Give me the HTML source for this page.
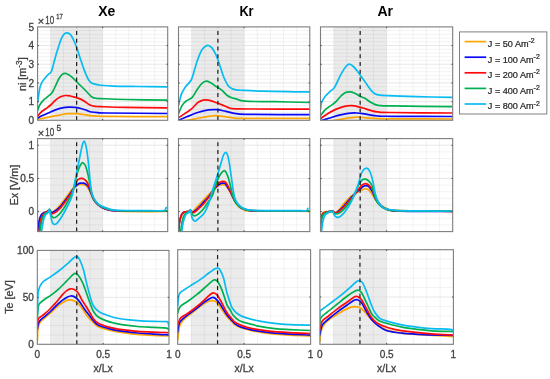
<!DOCTYPE html><html><head><meta charset="utf-8"><style>html,body{margin:0;padding:0;background:#fff;}svg{display:block;}</style></head><body><svg width="550" height="379" viewBox="0 0 550 379" font-family="Liberation Sans, Arial, sans-serif">
<rect width="550" height="379" fill="#fff"/>
<defs>
<clipPath id="cp00"><rect x="37.60" y="26.90" width="130.10" height="93.40"/></clipPath>
<clipPath id="cp01"><rect x="178.50" y="26.90" width="131.30" height="93.40"/></clipPath>
<clipPath id="cp02"><rect x="320.50" y="26.90" width="132.20" height="93.40"/></clipPath>
<clipPath id="cp10"><rect x="37.60" y="138.60" width="130.10" height="93.00"/></clipPath>
<clipPath id="cp11"><rect x="178.50" y="138.60" width="131.30" height="93.00"/></clipPath>
<clipPath id="cp12"><rect x="320.50" y="138.60" width="132.20" height="93.00"/></clipPath>
<clipPath id="cp20"><rect x="37.30" y="250.40" width="131.70" height="93.90"/></clipPath>
<clipPath id="cp21"><rect x="177.70" y="249.70" width="132.90" height="94.60"/></clipPath>
<clipPath id="cp22"><rect x="319.90" y="249.70" width="133.50" height="94.60"/></clipPath>
</defs>
<g><rect x="50.61" y="26.90" width="52.04" height="93.40" fill="#ebebeb"/><path d="M50.61,26.90V120.30 M63.62,26.90V120.30 M76.63,26.90V120.30 M89.64,26.90V120.30 M115.66,26.90V120.30 M128.67,26.90V120.30 M141.68,26.90V120.30 M154.69,26.90V120.30 M37.60,116.56H167.70 M37.60,112.83H167.70 M37.60,109.09H167.70 M37.60,105.36H167.70 M37.60,97.88H167.70 M37.60,94.15H167.70 M37.60,90.41H167.70 M37.60,86.68H167.70 M37.60,79.20H167.70 M37.60,75.47H167.70 M37.60,71.73H167.70 M37.60,68.00H167.70 M37.60,60.52H167.70 M37.60,56.79H167.70 M37.60,53.05H167.70 M37.60,49.32H167.70 M37.60,41.84H167.70 M37.60,38.11H167.70 M37.60,34.37H167.70 M37.60,30.64H167.70" stroke="#000" stroke-opacity="0.06" stroke-width="0.9" fill="none"/><path d="M102.65,26.90V120.30 M37.60,101.62H167.70 M37.60,82.94H167.70 M37.60,64.26H167.70 M37.60,45.58H167.70" stroke="#dcdcdc" stroke-width="0.7" fill="none"/><g clip-path="url(#cp00)"><path d="M37.60,119.20 C38.70,119.02 41.73,118.57 44.20,118.10 C46.67,117.63 49.68,116.95 52.40,116.40 C55.12,115.85 57.78,115.25 60.50,114.80 C63.22,114.35 65.97,113.88 68.70,113.70 C71.43,113.52 74.45,113.57 76.90,113.70 C79.35,113.83 81.22,114.18 83.40,114.50 C85.58,114.82 87.53,115.33 90.00,115.60 C92.47,115.87 95.53,115.97 98.20,116.10 C100.87,116.23 94.42,116.30 106.00,116.40 C117.58,116.50 157.42,116.65 167.70,116.70" stroke="#FFA500" stroke-width="1.7" fill="none" stroke-linejoin="round" stroke-linecap="round"/><path d="M37.60,118.10 C38.42,117.68 40.58,116.50 42.50,115.60 C44.42,114.70 46.92,113.65 49.10,112.70 C51.28,111.75 53.42,110.70 55.60,109.90 C57.78,109.10 60.02,108.37 62.20,107.90 C64.38,107.43 66.52,107.18 68.70,107.10 C70.88,107.02 73.12,107.13 75.30,107.40 C77.48,107.67 79.90,108.20 81.80,108.70 C83.70,109.20 85.07,109.85 86.70,110.40 C88.33,110.95 89.68,111.62 91.60,112.00 C93.52,112.38 95.80,112.53 98.20,112.70 C100.60,112.87 94.42,112.87 106.00,113.00 C117.58,113.13 157.42,113.42 167.70,113.50" stroke="#0A0AF8" stroke-width="1.7" fill="none" stroke-linejoin="round" stroke-linecap="round"/><path d="M37.60,116.20 C38.15,115.55 39.53,113.55 40.90,112.30 C42.27,111.05 44.17,109.92 45.80,108.70 C47.43,107.48 49.07,106.43 50.70,105.00 C52.33,103.57 53.97,101.47 55.60,100.10 C57.23,98.73 58.87,97.57 60.50,96.80 C62.13,96.03 63.77,95.63 65.40,95.50 C67.03,95.37 68.65,95.70 70.30,96.00 C71.95,96.30 73.65,96.82 75.30,97.30 C76.95,97.78 78.57,98.17 80.20,98.90 C81.83,99.63 83.47,100.68 85.10,101.70 C86.73,102.72 88.37,104.23 90.00,105.00 C91.63,105.77 93.23,106.03 94.90,106.30 C96.57,106.57 94.90,106.42 100.00,106.60 C105.10,106.78 114.22,107.20 125.50,107.40 C136.78,107.60 160.67,107.73 167.70,107.80" stroke="#FF0A0A" stroke-width="1.7" fill="none" stroke-linejoin="round" stroke-linecap="round"/><path d="M37.60,110.50 C37.95,109.58 38.75,106.68 39.70,105.00 C40.65,103.32 42.12,101.67 43.30,100.40 C44.48,99.13 45.52,98.50 46.80,97.40 C48.08,96.30 50.00,94.78 51.00,93.80 C52.00,92.82 52.02,92.88 52.80,91.50 C53.58,90.12 54.72,87.58 55.70,85.50 C56.68,83.42 57.62,80.85 58.70,79.00 C59.78,77.15 61.08,75.33 62.20,74.40 C63.32,73.47 64.32,73.35 65.40,73.40 C66.48,73.45 67.60,74.08 68.70,74.70 C69.80,75.32 70.48,75.73 72.00,77.10 C73.52,78.47 75.63,80.75 77.80,82.90 C79.97,85.05 83.25,88.23 85.00,90.00 C86.75,91.77 87.07,92.28 88.30,93.50 C89.53,94.72 91.03,96.48 92.40,97.30 C93.77,98.12 95.23,98.18 96.50,98.40 C97.77,98.62 95.17,98.42 100.00,98.60 C104.83,98.78 114.22,99.23 125.50,99.50 C136.78,99.77 160.67,100.08 167.70,100.20" stroke="#00B050" stroke-width="1.7" fill="none" stroke-linejoin="round" stroke-linecap="round"/><path d="M37.60,102.50 C37.77,101.35 38.25,97.93 38.60,95.60 C38.95,93.27 39.22,90.57 39.70,88.50 C40.18,86.43 40.80,84.68 41.50,83.20 C42.20,81.72 43.02,80.80 43.90,79.60 C44.78,78.40 45.92,76.98 46.80,76.00 C47.68,75.02 48.58,74.23 49.20,73.70 C49.82,73.17 50.07,73.33 50.50,72.80 C50.93,72.27 51.33,71.83 51.80,70.50 C52.27,69.17 52.75,66.83 53.30,64.80 C53.85,62.77 54.50,60.47 55.10,58.30 C55.70,56.13 56.30,53.78 56.90,51.80 C57.50,49.82 58.12,48.18 58.70,46.40 C59.28,44.62 59.82,42.68 60.40,41.10 C60.98,39.52 61.50,38.13 62.20,36.90 C62.90,35.67 63.80,34.38 64.60,33.70 C65.40,33.02 66.22,32.80 67.00,32.80 C67.78,32.80 68.52,33.12 69.30,33.70 C70.08,34.28 70.77,34.75 71.70,36.30 C72.63,37.85 74.00,40.92 74.90,43.00 C75.80,45.08 76.38,46.75 77.10,48.80 C77.82,50.85 78.48,53.12 79.20,55.30 C79.92,57.48 80.67,59.72 81.40,61.90 C82.13,64.08 82.75,66.12 83.60,68.40 C84.45,70.68 85.65,73.67 86.50,75.60 C87.35,77.53 87.98,78.85 88.70,80.00 C89.42,81.15 89.97,81.85 90.80,82.50 C91.63,83.15 92.48,83.52 93.70,83.90 C94.92,84.28 96.72,84.55 98.10,84.80 C99.48,85.05 99.57,85.18 102.00,85.40 C104.43,85.62 106.67,85.92 112.70,86.10 C118.73,86.28 129.03,86.38 138.20,86.50 C147.37,86.62 162.78,86.75 167.70,86.80" stroke="#08BCF2" stroke-width="1.7" fill="none" stroke-linejoin="round" stroke-linecap="round"/></g><path d="M76.63,120.30V26.90" stroke="#1a1a1a" stroke-width="1.2" stroke-dasharray="4 3.76" fill="none"/><rect x="37.60" y="26.90" width="130.10" height="93.40" fill="none" stroke="#7d7d7d" stroke-width="1.1"/><path d="M37.60,101.62h1.3M167.70,101.62h-1.3M37.60,82.94h1.3M167.70,82.94h-1.3M37.60,64.26h1.3M167.70,64.26h-1.3M37.60,45.58h1.3M167.70,45.58h-1.3M102.65,120.30v-1.3M102.65,26.90v1.3" stroke="#404040" stroke-width="0.9" fill="none"/></g>
<g><rect x="191.63" y="26.90" width="52.52" height="93.40" fill="#ebebeb"/><path d="M191.63,26.90V120.30 M204.76,26.90V120.30 M217.89,26.90V120.30 M231.02,26.90V120.30 M257.28,26.90V120.30 M270.41,26.90V120.30 M283.54,26.90V120.30 M296.67,26.90V120.30 M178.50,116.56H309.80 M178.50,112.83H309.80 M178.50,109.09H309.80 M178.50,105.36H309.80 M178.50,97.88H309.80 M178.50,94.15H309.80 M178.50,90.41H309.80 M178.50,86.68H309.80 M178.50,79.20H309.80 M178.50,75.47H309.80 M178.50,71.73H309.80 M178.50,68.00H309.80 M178.50,60.52H309.80 M178.50,56.79H309.80 M178.50,53.05H309.80 M178.50,49.32H309.80 M178.50,41.84H309.80 M178.50,38.11H309.80 M178.50,34.37H309.80 M178.50,30.64H309.80" stroke="#000" stroke-opacity="0.06" stroke-width="0.9" fill="none"/><path d="M244.15,26.90V120.30 M178.50,101.62H309.80 M178.50,82.94H309.80 M178.50,64.26H309.80 M178.50,45.58H309.80" stroke="#dcdcdc" stroke-width="0.7" fill="none"/><g clip-path="url(#cp01)"><path d="M178.50,121.60 C180.25,121.33 185.08,120.68 189.00,120.00 C192.92,119.32 197.67,118.22 202.00,117.50 C206.33,116.78 211.03,115.82 215.00,115.70 C218.97,115.58 222.30,116.37 225.80,116.80 C229.30,117.23 231.92,118.05 236.00,118.30 C240.08,118.55 238.00,118.28 250.30,118.30 C262.60,118.32 299.88,118.38 309.80,118.40" stroke="#FFA500" stroke-width="1.7" fill="none" stroke-linejoin="round" stroke-linecap="round"/><path d="M178.50,120.40 C179.88,119.80 183.60,118.12 186.80,116.80 C190.00,115.48 194.08,113.65 197.70,112.50 C201.32,111.35 205.25,110.37 208.50,109.90 C211.75,109.43 214.32,109.45 217.20,109.70 C220.08,109.95 222.67,110.75 225.80,111.40 C228.93,112.05 231.92,113.10 236.00,113.60 C240.08,114.10 238.00,114.22 250.30,114.40 C262.60,114.58 299.88,114.65 309.80,114.70" stroke="#0A0AF8" stroke-width="1.7" fill="none" stroke-linejoin="round" stroke-linecap="round"/><path d="M178.50,117.90 C179.53,117.18 182.58,115.05 184.70,113.60 C186.82,112.15 189.03,111.02 191.20,109.20 C193.37,107.38 195.72,104.22 197.70,102.70 C199.68,101.18 201.30,100.53 203.10,100.10 C204.90,99.67 206.70,99.83 208.50,100.10 C210.30,100.37 212.10,101.08 213.90,101.70 C215.70,102.32 217.50,103.08 219.30,103.80 C221.10,104.52 222.90,105.27 224.70,106.00 C226.50,106.73 228.22,107.73 230.10,108.20 C231.98,108.67 232.68,108.67 236.00,108.80 C239.32,108.93 237.70,108.93 250.00,109.00 C262.30,109.07 299.83,109.17 309.80,109.20" stroke="#FF0A0A" stroke-width="1.7" fill="none" stroke-linejoin="round" stroke-linecap="round"/><path d="M178.50,113.60 C179.17,112.15 181.12,107.07 182.50,104.90 C183.88,102.73 185.18,101.87 186.80,100.60 C188.42,99.33 190.38,99.28 192.20,97.30 C194.02,95.32 196.07,91.03 197.70,88.70 C199.33,86.37 200.57,84.57 202.00,83.30 C203.43,82.03 204.85,81.18 206.30,81.10 C207.75,81.02 209.07,81.90 210.70,82.80 C212.33,83.70 214.30,85.33 216.10,86.50 C217.90,87.67 219.70,88.35 221.50,89.80 C223.30,91.25 225.10,93.83 226.90,95.20 C228.70,96.57 230.78,97.40 232.30,98.00 C233.82,98.60 233.85,98.27 236.00,98.80 C238.15,99.33 238.63,100.72 245.20,101.20 C251.77,101.68 264.63,101.48 275.40,101.70 C286.17,101.92 304.07,102.37 309.80,102.50" stroke="#00B050" stroke-width="1.7" fill="none" stroke-linejoin="round" stroke-linecap="round"/><path d="M178.50,105.50 C178.98,103.60 180.20,97.27 181.40,94.10 C182.60,90.93 184.07,88.85 185.70,86.50 C187.33,84.15 189.75,82.70 191.20,80.00 C192.65,77.30 193.32,73.72 194.40,70.30 C195.48,66.88 196.43,62.93 197.70,59.50 C198.97,56.07 200.38,52.05 202.00,49.70 C203.62,47.35 205.78,45.75 207.40,45.40 C209.02,45.05 210.25,45.98 211.70,47.60 C213.15,49.22 214.83,52.40 216.10,55.10 C217.37,57.80 218.05,60.18 219.30,63.80 C220.55,67.42 222.15,73.20 223.60,76.80 C225.05,80.40 226.55,83.42 228.00,85.40 C229.45,87.38 230.97,87.97 232.30,88.70 C233.63,89.43 234.27,89.53 236.00,89.80 C237.73,90.07 238.23,90.07 242.70,90.30 C247.17,90.53 255.27,90.97 262.80,91.20 C270.33,91.43 280.07,91.58 287.90,91.70 C295.73,91.82 306.15,91.87 309.80,91.90" stroke="#08BCF2" stroke-width="1.7" fill="none" stroke-linejoin="round" stroke-linecap="round"/></g><path d="M217.89,120.30V26.90" stroke="#1a1a1a" stroke-width="1.2" stroke-dasharray="4 3.76" fill="none"/><rect x="178.50" y="26.90" width="131.30" height="93.40" fill="none" stroke="#7d7d7d" stroke-width="1.1"/><path d="M178.50,101.62h1.3M309.80,101.62h-1.3M178.50,82.94h1.3M309.80,82.94h-1.3M178.50,64.26h1.3M309.80,64.26h-1.3M178.50,45.58h1.3M309.80,45.58h-1.3M244.15,120.30v-1.3M244.15,26.90v1.3" stroke="#404040" stroke-width="0.9" fill="none"/></g>
<g><rect x="333.72" y="26.90" width="52.88" height="93.40" fill="#ebebeb"/><path d="M333.72,26.90V120.30 M346.94,26.90V120.30 M360.16,26.90V120.30 M373.38,26.90V120.30 M399.82,26.90V120.30 M413.04,26.90V120.30 M426.26,26.90V120.30 M439.48,26.90V120.30 M320.50,116.56H452.70 M320.50,112.83H452.70 M320.50,109.09H452.70 M320.50,105.36H452.70 M320.50,97.88H452.70 M320.50,94.15H452.70 M320.50,90.41H452.70 M320.50,86.68H452.70 M320.50,79.20H452.70 M320.50,75.47H452.70 M320.50,71.73H452.70 M320.50,68.00H452.70 M320.50,60.52H452.70 M320.50,56.79H452.70 M320.50,53.05H452.70 M320.50,49.32H452.70 M320.50,41.84H452.70 M320.50,38.11H452.70 M320.50,34.37H452.70 M320.50,30.64H452.70" stroke="#000" stroke-opacity="0.06" stroke-width="0.9" fill="none"/><path d="M386.60,26.90V120.30 M320.50,101.62H452.70 M320.50,82.94H452.70 M320.50,64.26H452.70 M320.50,45.58H452.70" stroke="#dcdcdc" stroke-width="0.7" fill="none"/><g clip-path="url(#cp02)"><path d="M320.50,121.70 C322.45,121.55 328.20,121.32 332.20,120.80 C336.20,120.28 340.37,119.20 344.50,118.60 C348.63,118.00 353.45,117.33 357.00,117.20 C360.55,117.07 362.30,117.57 365.80,117.80 C369.30,118.03 372.30,118.42 378.00,118.60 C383.70,118.78 387.55,118.83 400.00,118.90 C412.45,118.97 443.92,118.98 452.70,119.00" stroke="#FFA500" stroke-width="1.7" fill="none" stroke-linejoin="round" stroke-linecap="round"/><path d="M320.50,120.70 C321.85,120.30 325.48,119.23 328.60,118.30 C331.72,117.37 335.95,115.93 339.20,115.10 C342.45,114.27 345.13,113.65 348.10,113.30 C351.07,112.95 354.05,112.85 357.00,113.00 C359.95,113.15 362.30,113.70 365.80,114.20 C369.30,114.70 373.58,115.65 378.00,116.00 C382.42,116.35 379.85,116.22 392.30,116.30 C404.75,116.38 442.63,116.47 452.70,116.50" stroke="#0A0AF8" stroke-width="1.7" fill="none" stroke-linejoin="round" stroke-linecap="round"/><path d="M320.50,118.60 C321.55,117.87 324.27,115.73 326.80,114.20 C329.33,112.67 332.75,110.72 335.70,109.40 C338.65,108.08 341.85,106.92 344.50,106.30 C347.15,105.68 349.23,105.62 351.60,105.70 C353.97,105.78 356.33,106.27 358.70,106.80 C361.07,107.33 363.43,108.17 365.80,108.90 C368.17,109.63 370.87,110.70 372.90,111.20 C374.93,111.70 375.15,111.68 378.00,111.90 C380.85,112.12 377.55,112.32 390.00,112.50 C402.45,112.68 442.25,112.92 452.70,113.00" stroke="#FF0A0A" stroke-width="1.7" fill="none" stroke-linejoin="round" stroke-linecap="round"/><path d="M320.50,115.80 C321.27,114.80 323.45,111.45 325.10,109.80 C326.75,108.15 328.63,107.23 330.40,105.90 C332.17,104.57 333.93,103.45 335.70,101.80 C337.47,100.15 339.38,97.55 341.00,96.00 C342.62,94.45 343.92,93.20 345.40,92.50 C346.88,91.80 348.42,91.72 349.90,91.80 C351.38,91.88 352.68,92.30 354.30,93.00 C355.92,93.70 357.83,95.12 359.60,96.00 C361.37,96.88 362.98,97.23 364.90,98.30 C366.82,99.37 368.92,101.22 371.10,102.40 C373.28,103.58 374.47,104.82 378.00,105.40 C381.53,105.98 379.85,105.68 392.30,105.90 C404.75,106.12 442.63,106.57 452.70,106.70" stroke="#00B050" stroke-width="1.7" fill="none" stroke-linejoin="round" stroke-linecap="round"/><path d="M320.50,109.50 C320.67,108.37 320.73,104.87 321.50,102.70 C322.27,100.53 323.62,98.42 325.10,96.50 C326.58,94.58 328.87,92.67 330.40,91.20 C331.93,89.73 333.12,89.32 334.30,87.70 C335.48,86.08 336.23,84.00 337.50,81.50 C338.77,79.00 340.43,75.28 341.90,72.70 C343.37,70.12 345.03,67.42 346.30,66.00 C347.57,64.58 348.32,64.12 349.50,64.20 C350.68,64.28 352.02,65.23 353.40,66.50 C354.78,67.77 356.33,69.88 357.80,71.80 C359.27,73.72 360.72,75.93 362.20,78.00 C363.68,80.07 365.22,82.13 366.70,84.20 C368.18,86.27 369.78,88.85 371.10,90.40 C372.42,91.95 373.45,92.77 374.60,93.50 C375.75,94.23 375.90,94.45 378.00,94.80 C380.10,95.15 380.63,95.28 387.20,95.60 C393.77,95.92 406.48,96.40 417.40,96.70 C428.32,97.00 446.82,97.28 452.70,97.40" stroke="#08BCF2" stroke-width="1.7" fill="none" stroke-linejoin="round" stroke-linecap="round"/></g><path d="M360.16,120.30V26.90" stroke="#1a1a1a" stroke-width="1.2" stroke-dasharray="4 3.76" fill="none"/><rect x="320.50" y="26.90" width="132.20" height="93.40" fill="none" stroke="#7d7d7d" stroke-width="1.1"/><path d="M320.50,101.62h1.3M452.70,101.62h-1.3M320.50,82.94h1.3M452.70,82.94h-1.3M320.50,64.26h1.3M452.70,64.26h-1.3M320.50,45.58h1.3M452.70,45.58h-1.3M386.60,120.30v-1.3M386.60,26.90v1.3" stroke="#404040" stroke-width="0.9" fill="none"/></g>
<g><rect x="50.61" y="138.60" width="52.04" height="93.00" fill="#ebebeb"/><path d="M50.61,138.60V231.60 M63.62,138.60V231.60 M76.63,138.60V231.60 M89.64,138.60V231.60 M115.66,138.60V231.60 M128.67,138.60V231.60 M141.68,138.60V231.60 M154.69,138.60V231.60 M37.60,224.96H167.70 M37.60,218.31H167.70 M37.60,205.03H167.70 M37.60,198.39H167.70 M37.60,191.74H167.70 M37.60,185.10H167.70 M37.60,171.81H167.70 M37.60,165.17H167.70 M37.60,158.53H167.70 M37.60,151.89H167.70" stroke="#000" stroke-opacity="0.06" stroke-width="0.9" fill="none"/><path d="M102.65,138.60V231.60 M37.60,211.67H167.70 M37.60,178.46H167.70 M37.60,145.24H167.70" stroke="#dcdcdc" stroke-width="0.7" fill="none"/><g clip-path="url(#cp10)"><path d="M37.60,236.00 C37.65,235.33 37.55,234.58 37.90,232.00 C38.25,229.42 38.97,223.47 39.70,220.50 C40.43,217.53 41.25,215.62 42.30,214.20 C43.35,212.78 44.80,212.72 46.00,212.00 C47.20,211.28 48.62,209.87 49.50,209.90 C50.38,209.93 50.85,211.82 51.30,212.20 C51.75,212.58 51.32,212.77 52.20,212.20 C53.08,211.63 55.12,210.20 56.60,208.80 C58.08,207.40 59.62,205.55 61.10,203.80 C62.58,202.05 64.03,200.23 65.50,198.30 C66.97,196.37 68.60,193.95 69.90,192.20 C71.20,190.45 72.42,188.75 73.30,187.80 C74.18,186.85 74.50,186.93 75.20,186.50 C75.90,186.07 76.72,185.53 77.50,185.20 C78.28,184.87 79.10,184.65 79.90,184.50 C80.70,184.35 81.50,184.23 82.30,184.30 C83.10,184.37 83.92,184.52 84.70,184.90 C85.48,185.28 86.28,185.78 87.00,186.60 C87.72,187.42 88.33,188.60 89.00,189.80 C89.67,191.00 90.40,192.43 91.00,193.80 C91.60,195.17 91.97,196.72 92.60,198.00 C93.23,199.28 94.15,200.67 94.80,201.50 C95.45,202.33 95.63,202.28 96.50,203.00 C97.37,203.72 98.42,204.93 100.00,205.80 C101.58,206.67 104.00,207.45 106.00,208.20 C108.00,208.95 108.75,209.77 112.00,210.30 C115.25,210.83 116.90,211.23 125.50,211.40 C134.10,211.57 156.82,211.43 163.60,211.30 C170.38,211.17 165.77,210.72 166.20,210.60" stroke="#FFA500" stroke-width="1.7" fill="none" stroke-linejoin="round" stroke-linecap="round"/><path d="M37.30,236.00 C37.35,235.33 37.28,234.58 37.60,232.00 C37.92,229.42 38.58,223.38 39.20,220.50 C39.82,217.62 40.43,216.02 41.30,214.70 C42.17,213.38 43.35,213.08 44.40,212.60 C45.45,212.12 46.75,212.28 47.60,211.80 C48.45,211.32 48.88,209.53 49.50,209.70 C50.12,209.87 50.85,212.30 51.30,212.80 C51.75,213.30 51.32,213.18 52.20,212.70 C53.08,212.22 55.12,211.07 56.60,209.90 C58.08,208.73 59.62,207.35 61.10,205.70 C62.58,204.05 64.03,201.97 65.50,200.00 C66.97,198.03 68.60,195.75 69.90,193.90 C71.20,192.05 72.35,190.18 73.30,188.90 C74.25,187.62 74.77,187.03 75.60,186.20 C76.43,185.37 77.45,184.42 78.30,183.90 C79.15,183.38 79.90,183.23 80.70,183.10 C81.50,182.97 82.30,182.97 83.10,183.10 C83.90,183.23 84.72,183.45 85.50,183.90 C86.28,184.35 87.15,184.95 87.80,185.80 C88.45,186.65 88.87,187.80 89.40,189.00 C89.93,190.20 90.32,191.33 91.00,193.00 C91.68,194.67 92.55,197.25 93.50,199.00 C94.45,200.75 95.62,202.28 96.70,203.50 C97.78,204.72 98.62,205.40 100.00,206.30 C101.38,207.20 102.88,208.17 105.00,208.90 C107.12,209.63 109.28,210.32 112.70,210.70 C116.12,211.08 116.33,211.12 125.50,211.20 C134.67,211.28 160.67,211.20 167.70,211.20" stroke="#0A0AF8" stroke-width="1.7" fill="none" stroke-linejoin="round" stroke-linecap="round"/><path d="M38.60,236.00 C38.67,235.42 38.65,235.08 39.00,232.50 C39.35,229.92 39.97,223.55 40.70,220.50 C41.43,217.45 42.42,215.57 43.40,214.20 C44.38,212.83 45.58,213.05 46.60,212.30 C47.62,211.55 48.72,209.52 49.50,209.70 C50.28,209.88 50.85,212.72 51.30,213.40 C51.75,214.08 51.32,214.10 52.20,213.80 C53.08,213.50 55.12,212.70 56.60,211.60 C58.08,210.50 59.62,208.87 61.10,207.20 C62.58,205.53 64.03,203.63 65.50,201.60 C66.97,199.57 68.60,197.03 69.90,195.00 C71.20,192.97 72.35,191.32 73.30,189.40 C74.25,187.48 74.90,185.08 75.60,183.50 C76.30,181.92 76.78,180.72 77.50,179.90 C78.22,179.08 79.17,178.87 79.90,178.60 C80.63,178.33 81.23,178.22 81.90,178.30 C82.57,178.38 83.17,178.63 83.90,179.10 C84.63,179.57 85.58,180.23 86.30,181.10 C87.02,181.97 87.62,183.12 88.20,184.30 C88.78,185.48 89.27,186.75 89.80,188.20 C90.33,189.65 90.78,191.28 91.40,193.00 C92.02,194.72 92.62,196.78 93.50,198.50 C94.38,200.22 95.62,202.05 96.70,203.30 C97.78,204.55 98.62,205.10 100.00,206.00 C101.38,206.90 102.88,207.95 105.00,208.70 C107.12,209.45 109.28,210.12 112.70,210.50 C116.12,210.88 116.33,210.90 125.50,211.00 C134.67,211.10 160.67,211.08 167.70,211.10" stroke="#FF0A0A" stroke-width="1.7" fill="none" stroke-linejoin="round" stroke-linecap="round"/><path d="M39.30,236.00 C39.37,235.42 39.28,235.08 39.70,232.50 C40.12,229.92 41.02,223.55 41.80,220.50 C42.58,217.45 43.43,215.57 44.40,214.20 C45.37,212.83 46.75,213.05 47.60,212.30 C48.45,211.55 48.88,209.13 49.50,209.70 C50.12,210.27 50.67,214.37 51.30,215.70 C51.93,217.03 52.42,217.55 53.30,217.70 C54.18,217.85 55.30,217.52 56.60,216.60 C57.90,215.68 59.62,214.05 61.10,212.20 C62.58,210.35 64.03,207.92 65.50,205.50 C66.97,203.08 68.60,200.30 69.90,197.70 C71.20,195.10 72.35,192.85 73.30,189.90 C74.25,186.95 74.83,183.15 75.60,180.00 C76.37,176.85 77.08,173.50 77.90,171.00 C78.72,168.50 79.72,166.40 80.50,165.00 C81.28,163.60 81.92,162.68 82.60,162.60 C83.28,162.52 84.12,163.97 84.60,164.50 C85.08,165.03 84.97,164.27 85.50,165.80 C86.03,167.33 87.15,171.07 87.80,173.70 C88.45,176.33 88.87,178.70 89.40,181.60 C89.93,184.50 90.32,188.28 91.00,191.10 C91.68,193.92 92.55,196.52 93.50,198.50 C94.45,200.48 95.62,201.78 96.70,203.00 C97.78,204.22 98.62,204.92 100.00,205.80 C101.38,206.68 102.88,207.58 105.00,208.30 C107.12,209.02 109.28,209.68 112.70,210.10 C116.12,210.52 116.33,210.67 125.50,210.80 C134.67,210.93 160.67,210.88 167.70,210.90" stroke="#00B050" stroke-width="1.7" fill="none" stroke-linejoin="round" stroke-linecap="round"/><path d="M40.80,236.00 C40.88,235.42 40.87,235.08 41.30,232.50 C41.73,229.92 42.70,223.47 43.40,220.50 C44.10,217.53 44.72,216.02 45.50,214.70 C46.28,213.38 47.43,213.48 48.10,212.60 C48.77,211.72 49.05,208.78 49.50,209.40 C49.95,210.02 50.32,214.10 50.80,216.30 C51.28,218.50 51.78,221.23 52.40,222.60 C53.02,223.97 53.72,224.42 54.50,224.50 C55.28,224.58 56.00,224.23 57.10,223.10 C58.20,221.97 59.70,219.88 61.10,217.70 C62.50,215.52 64.03,212.77 65.50,210.00 C66.97,207.23 68.75,203.68 69.90,201.10 C71.05,198.52 71.65,197.30 72.40,194.50 C73.15,191.70 73.73,187.72 74.40,184.30 C75.07,180.88 75.70,177.55 76.40,174.00 C77.10,170.45 77.92,166.42 78.60,163.00 C79.28,159.58 79.85,156.57 80.50,153.50 C81.15,150.43 81.87,146.63 82.50,144.60 C83.13,142.57 83.70,141.00 84.30,141.30 C84.90,141.60 85.55,143.95 86.10,146.40 C86.65,148.85 87.15,152.65 87.60,156.00 C88.05,159.35 88.37,162.23 88.80,166.50 C89.23,170.77 89.70,177.23 90.20,181.60 C90.70,185.97 91.13,189.80 91.80,192.70 C92.47,195.60 93.15,197.15 94.20,199.00 C95.25,200.85 96.80,202.58 98.10,203.80 C99.40,205.02 100.68,205.63 102.00,206.30 C103.32,206.97 104.22,207.22 106.00,207.80 C107.78,208.38 109.45,209.35 112.70,209.80 C115.95,210.25 119.13,210.35 125.50,210.50 C131.87,210.65 144.55,210.67 150.90,210.70 C157.25,210.73 161.20,210.90 163.60,210.70 C166.00,210.50 164.87,210.03 165.30,209.50 C165.73,208.97 166.05,207.83 166.20,207.50" stroke="#08BCF2" stroke-width="1.7" fill="none" stroke-linejoin="round" stroke-linecap="round"/></g><path d="M76.63,231.60V138.60" stroke="#1a1a1a" stroke-width="1.2" stroke-dasharray="4 3.76" fill="none"/><rect x="37.60" y="138.60" width="130.10" height="93.00" fill="none" stroke="#7d7d7d" stroke-width="1.1"/><path d="M37.60,211.67h1.3M167.70,211.67h-1.3M37.60,178.46h1.3M167.70,178.46h-1.3M37.60,145.24h1.3M167.70,145.24h-1.3M102.65,231.60v-1.3M102.65,138.60v1.3" stroke="#404040" stroke-width="0.9" fill="none"/></g>
<g><rect x="191.63" y="138.60" width="52.52" height="93.00" fill="#ebebeb"/><path d="M191.63,138.60V231.60 M204.76,138.60V231.60 M217.89,138.60V231.60 M231.02,138.60V231.60 M257.28,138.60V231.60 M270.41,138.60V231.60 M283.54,138.60V231.60 M296.67,138.60V231.60 M178.50,224.96H309.80 M178.50,218.31H309.80 M178.50,205.03H309.80 M178.50,198.39H309.80 M178.50,191.74H309.80 M178.50,185.10H309.80 M178.50,171.81H309.80 M178.50,165.17H309.80 M178.50,158.53H309.80 M178.50,151.89H309.80" stroke="#000" stroke-opacity="0.06" stroke-width="0.9" fill="none"/><path d="M244.15,138.60V231.60 M178.50,211.67H309.80 M178.50,178.46H309.80 M178.50,145.24H309.80" stroke="#dcdcdc" stroke-width="0.7" fill="none"/><g clip-path="url(#cp11)"><path d="M178.30,236.00 C178.33,235.33 178.30,234.30 178.50,232.00 C178.70,229.70 179.03,224.97 179.50,222.20 C179.97,219.43 180.58,217.05 181.30,215.40 C182.02,213.75 182.87,212.92 183.80,212.30 C184.73,211.68 185.97,211.85 186.90,211.70 C187.83,211.55 188.82,211.58 189.40,211.40 C189.98,211.22 189.88,210.58 190.40,210.60 C190.92,210.62 191.63,211.85 192.50,211.50 C193.37,211.15 194.58,209.53 195.60,208.50 C196.62,207.47 197.23,206.80 198.60,205.30 C199.97,203.80 202.20,201.20 203.80,199.50 C205.40,197.80 206.95,196.37 208.20,195.10 C209.45,193.83 210.25,192.97 211.30,191.90 C212.35,190.83 213.45,189.67 214.50,188.70 C215.55,187.73 216.55,186.75 217.60,186.10 C218.65,185.45 219.57,184.97 220.80,184.80 C222.03,184.63 223.55,184.07 225.00,185.10 C226.45,186.13 228.17,188.85 229.50,191.00 C230.83,193.15 231.82,195.80 233.00,198.00 C234.18,200.20 235.42,202.57 236.60,204.20 C237.78,205.83 238.87,206.92 240.10,207.80 C241.33,208.68 242.02,208.97 244.00,209.50 C245.98,210.03 241.03,210.70 252.00,211.00 C262.97,211.30 300.17,211.25 309.80,211.30" stroke="#FFA500" stroke-width="1.7" fill="none" stroke-linejoin="round" stroke-linecap="round"/><path d="M178.30,236.00 C178.33,235.33 178.30,234.30 178.50,232.00 C178.70,229.70 179.03,224.97 179.50,222.20 C179.97,219.43 180.58,217.05 181.30,215.40 C182.02,213.75 182.87,212.92 183.80,212.30 C184.73,211.68 185.97,211.85 186.90,211.70 C187.83,211.55 188.82,211.62 189.40,211.40 C189.98,211.18 189.88,210.25 190.40,210.40 C190.92,210.55 191.63,212.32 192.50,212.30 C193.37,212.28 194.58,211.07 195.60,210.30 C196.62,209.53 197.23,209.12 198.60,207.70 C199.97,206.28 202.03,203.73 203.80,201.80 C205.57,199.87 207.60,198.02 209.20,196.10 C210.80,194.18 212.17,191.88 213.40,190.30 C214.63,188.72 215.55,187.65 216.60,186.60 C217.65,185.55 218.65,184.57 219.70,184.00 C220.75,183.43 222.02,183.28 222.90,183.20 C223.78,183.12 224.35,183.08 225.00,183.50 C225.65,183.92 225.90,184.32 226.80,185.70 C227.70,187.08 229.20,189.50 230.40,191.80 C231.60,194.10 232.82,197.38 234.00,199.50 C235.18,201.62 236.33,203.12 237.50,204.50 C238.67,205.88 239.42,206.88 241.00,207.80 C242.58,208.72 243.83,209.45 247.00,210.00 C250.17,210.55 249.53,210.90 260.00,211.10 C270.47,211.30 301.50,211.18 309.80,211.20" stroke="#0A0AF8" stroke-width="1.7" fill="none" stroke-linejoin="round" stroke-linecap="round"/><path d="M178.30,236.00 C178.33,235.33 178.30,234.30 178.50,232.00 C178.70,229.70 179.03,224.97 179.50,222.20 C179.97,219.43 180.58,217.05 181.30,215.40 C182.02,213.75 182.87,212.92 183.80,212.30 C184.73,211.68 185.97,211.85 186.90,211.70 C187.83,211.55 188.82,211.62 189.40,211.40 C189.98,211.18 189.88,210.15 190.40,210.40 C190.92,210.65 191.63,212.75 192.50,212.90 C193.37,213.05 194.58,212.00 195.60,211.30 C196.62,210.60 197.23,209.97 198.60,208.70 C199.97,207.43 202.03,205.70 203.80,203.70 C205.57,201.70 207.60,198.83 209.20,196.70 C210.80,194.57 212.17,192.75 213.40,190.90 C214.63,189.05 215.55,187.02 216.60,185.60 C217.65,184.18 218.65,183.10 219.70,182.40 C220.75,181.70 222.02,181.52 222.90,181.40 C223.78,181.28 224.35,181.28 225.00,181.70 C225.65,182.12 225.90,182.35 226.80,183.90 C227.70,185.45 229.22,188.50 230.40,191.00 C231.58,193.50 232.80,196.73 233.90,198.90 C235.00,201.07 235.82,202.57 237.00,204.00 C238.18,205.43 239.33,206.53 241.00,207.50 C242.67,208.47 243.83,209.22 247.00,209.80 C250.17,210.38 249.53,210.78 260.00,211.00 C270.47,211.22 301.50,211.08 309.80,211.10" stroke="#FF0A0A" stroke-width="1.7" fill="none" stroke-linejoin="round" stroke-linecap="round"/><path d="M180.50,236.00 C180.53,235.33 180.45,234.30 180.70,232.00 C180.95,229.70 181.48,224.87 182.00,222.20 C182.52,219.53 182.98,217.62 183.80,216.00 C184.62,214.38 185.97,213.22 186.90,212.50 C187.83,211.78 188.82,212.05 189.40,211.70 C189.98,211.35 189.88,209.88 190.40,210.40 C190.92,210.92 191.82,213.88 192.50,214.80 C193.18,215.72 193.48,216.07 194.50,215.90 C195.52,215.73 197.05,215.03 198.60,213.80 C200.15,212.57 202.03,210.72 203.80,208.50 C205.57,206.28 207.77,202.65 209.20,200.50 C210.63,198.35 211.43,197.82 212.40,195.60 C213.37,193.38 214.13,189.83 215.00,187.20 C215.87,184.57 216.72,181.92 217.60,179.80 C218.48,177.68 219.42,175.92 220.30,174.50 C221.18,173.08 222.12,171.92 222.90,171.30 C223.68,170.68 224.20,170.03 225.00,170.80 C225.80,171.57 226.80,173.42 227.70,175.90 C228.60,178.38 229.52,182.30 230.40,185.70 C231.28,189.10 232.12,193.50 233.00,196.30 C233.88,199.10 234.53,200.72 235.70,202.50 C236.87,204.28 238.45,205.87 240.00,207.00 C241.55,208.13 242.50,208.70 245.00,209.30 C247.50,209.90 244.20,210.33 255.00,210.60 C265.80,210.87 300.67,210.85 309.80,210.90" stroke="#00B050" stroke-width="1.7" fill="none" stroke-linejoin="round" stroke-linecap="round"/><path d="M181.50,236.00 C181.53,235.33 181.42,234.30 181.70,232.00 C181.98,229.70 182.53,225.07 183.20,222.20 C183.87,219.33 184.77,216.42 185.70,214.80 C186.63,213.18 188.02,213.33 188.80,212.50 C189.58,211.67 189.88,209.02 190.40,209.80 C190.92,210.58 191.35,215.45 191.90,217.20 C192.45,218.95 193.08,219.67 193.70,220.30 C194.32,220.93 194.78,221.30 195.60,221.00 C196.42,220.70 197.23,219.70 198.60,218.50 C199.97,217.30 202.20,216.05 203.80,213.80 C205.40,211.55 206.95,208.20 208.20,205.00 C209.45,201.80 210.35,197.75 211.30,194.60 C212.25,191.45 213.02,188.92 213.90,186.10 C214.78,183.28 215.72,180.52 216.60,177.70 C217.48,174.88 218.43,171.73 219.20,169.20 C219.97,166.67 220.52,164.78 221.20,162.50 C221.88,160.22 222.57,157.18 223.30,155.50 C224.03,153.82 224.87,152.38 225.60,152.40 C226.33,152.42 227.05,153.60 227.70,155.60 C228.35,157.60 228.90,160.87 229.50,164.40 C230.10,167.93 230.72,172.67 231.30,176.80 C231.88,180.93 232.42,185.67 233.00,189.20 C233.58,192.73 234.07,195.65 234.80,198.00 C235.53,200.35 236.37,201.82 237.40,203.30 C238.43,204.78 239.90,206.02 241.00,206.90 C242.10,207.78 242.50,208.08 244.00,208.60 C245.50,209.12 246.50,209.67 250.00,210.00 C253.50,210.33 256.67,210.48 265.00,210.60 C273.33,210.72 293.08,210.70 300.00,210.70 C306.92,210.70 305.20,210.97 306.50,210.60 C307.80,210.23 307.58,208.85 307.80,208.50" stroke="#08BCF2" stroke-width="1.7" fill="none" stroke-linejoin="round" stroke-linecap="round"/></g><path d="M217.89,231.60V138.60" stroke="#1a1a1a" stroke-width="1.2" stroke-dasharray="4 3.76" fill="none"/><rect x="178.50" y="138.60" width="131.30" height="93.00" fill="none" stroke="#7d7d7d" stroke-width="1.1"/><path d="M178.50,211.67h1.3M309.80,211.67h-1.3M178.50,178.46h1.3M309.80,178.46h-1.3M178.50,145.24h1.3M309.80,145.24h-1.3M244.15,231.60v-1.3M244.15,138.60v1.3" stroke="#404040" stroke-width="0.9" fill="none"/></g>
<g><rect x="333.72" y="138.60" width="52.88" height="93.00" fill="#ebebeb"/><path d="M333.72,138.60V231.60 M346.94,138.60V231.60 M360.16,138.60V231.60 M373.38,138.60V231.60 M399.82,138.60V231.60 M413.04,138.60V231.60 M426.26,138.60V231.60 M439.48,138.60V231.60 M320.50,224.96H452.70 M320.50,218.31H452.70 M320.50,205.03H452.70 M320.50,198.39H452.70 M320.50,191.74H452.70 M320.50,185.10H452.70 M320.50,171.81H452.70 M320.50,165.17H452.70 M320.50,158.53H452.70 M320.50,151.89H452.70" stroke="#000" stroke-opacity="0.06" stroke-width="0.9" fill="none"/><path d="M386.60,138.60V231.60 M320.50,211.67H452.70 M320.50,178.46H452.70 M320.50,145.24H452.70" stroke="#dcdcdc" stroke-width="0.7" fill="none"/><g clip-path="url(#cp12)"><path d="M320.30,236.00 C320.33,233.18 320.30,222.53 320.50,219.10 C320.70,215.67 321.03,216.43 321.50,215.40 C321.97,214.37 322.48,213.52 323.30,212.90 C324.12,212.28 325.27,211.95 326.40,211.70 C327.53,211.45 329.10,211.52 330.10,211.40 C331.10,211.28 331.50,210.82 332.40,211.00 C333.30,211.18 334.42,212.68 335.50,212.50 C336.58,212.32 337.60,211.25 338.90,209.90 C340.20,208.55 341.83,206.15 343.30,204.40 C344.77,202.65 346.23,200.88 347.70,199.40 C349.17,197.92 350.62,196.62 352.10,195.50 C353.58,194.38 355.12,193.53 356.60,192.70 C358.08,191.87 359.72,191.12 361.00,190.50 C362.28,189.88 363.17,189.22 364.30,189.00 C365.43,188.78 366.65,188.55 367.80,189.20 C368.95,189.85 370.07,191.37 371.20,192.90 C372.33,194.43 373.47,196.68 374.60,198.40 C375.73,200.12 376.73,201.82 378.00,203.20 C379.27,204.58 380.87,205.90 382.20,206.70 C383.53,207.50 383.87,207.40 386.00,208.00 C388.13,208.60 383.88,209.75 395.00,210.30 C406.12,210.85 443.08,211.13 452.70,211.30" stroke="#FFA500" stroke-width="1.7" fill="none" stroke-linejoin="round" stroke-linecap="round"/><path d="M320.00,236.00 C320.03,234.93 320.05,232.10 320.20,229.60 C320.35,227.10 320.48,223.47 320.90,221.00 C321.32,218.53 321.78,216.27 322.70,214.80 C323.62,213.33 325.17,212.73 326.40,212.20 C327.63,211.67 329.10,211.77 330.10,211.60 C331.10,211.43 331.50,211.00 332.40,211.20 C333.30,211.40 334.42,212.83 335.50,212.80 C336.58,212.77 337.60,212.03 338.90,211.00 C340.20,209.97 341.83,208.17 343.30,206.60 C344.77,205.03 346.23,203.27 347.70,201.60 C349.17,199.93 350.62,198.17 352.10,196.60 C353.58,195.03 355.12,193.58 356.60,192.20 C358.08,190.82 359.85,189.28 361.00,188.30 C362.15,187.32 362.68,186.75 363.50,186.30 C364.32,185.85 364.97,185.52 365.90,185.60 C366.83,185.68 367.98,185.70 369.10,186.80 C370.22,187.90 371.45,190.03 372.60,192.20 C373.75,194.37 374.87,197.85 376.00,199.80 C377.13,201.75 378.23,202.65 379.40,203.90 C380.57,205.15 381.57,206.33 383.00,207.30 C384.43,208.27 385.17,209.07 388.00,209.70 C390.83,210.33 389.22,210.82 400.00,211.10 C410.78,211.38 443.92,211.35 452.70,211.40" stroke="#0A0AF8" stroke-width="1.7" fill="none" stroke-linejoin="round" stroke-linecap="round"/><path d="M320.30,236.00 C320.33,233.67 320.30,225.33 320.50,222.00 C320.70,218.67 321.03,217.50 321.50,216.00 C321.97,214.50 322.48,213.68 323.30,213.00 C324.12,212.32 325.27,212.15 326.40,211.90 C327.53,211.65 329.10,211.63 330.10,211.50 C331.10,211.37 331.50,210.83 332.40,211.10 C333.30,211.37 334.42,213.02 335.50,213.10 C336.58,213.18 337.60,212.50 338.90,211.60 C340.20,210.70 341.83,209.18 343.30,207.70 C344.77,206.22 346.23,204.37 347.70,202.70 C349.17,201.03 350.80,199.27 352.10,197.70 C353.40,196.13 354.38,194.77 355.50,193.30 C356.62,191.83 357.70,190.28 358.80,188.90 C359.90,187.52 360.95,185.88 362.10,185.00 C363.25,184.12 364.53,183.53 365.70,183.60 C366.87,183.67 367.95,184.30 369.10,185.40 C370.25,186.50 371.57,188.27 372.60,190.20 C373.63,192.13 374.32,194.87 375.30,197.00 C376.28,199.13 377.30,201.33 378.50,203.00 C379.70,204.67 380.92,205.92 382.50,207.00 C384.08,208.08 385.08,208.83 388.00,209.50 C390.92,210.17 389.22,210.70 400.00,211.00 C410.78,211.30 443.92,211.25 452.70,211.30" stroke="#FF0A0A" stroke-width="1.7" fill="none" stroke-linejoin="round" stroke-linecap="round"/><path d="M320.30,236.00 C320.33,235.00 320.30,232.67 320.50,230.00 C320.70,227.33 321.03,222.58 321.50,220.00 C321.97,217.42 322.48,215.80 323.30,214.50 C324.12,213.20 325.27,212.67 326.40,212.20 C327.53,211.73 329.10,211.85 330.10,211.70 C331.10,211.55 331.68,210.98 332.40,211.30 C333.12,211.62 333.32,213.27 334.40,213.60 C335.48,213.93 337.42,213.92 338.90,213.30 C340.38,212.68 341.83,211.30 343.30,209.90 C344.77,208.50 346.23,206.75 347.70,204.90 C349.17,203.05 350.80,200.92 352.10,198.80 C353.40,196.68 354.38,194.60 355.50,192.20 C356.62,189.80 357.67,186.47 358.80,184.40 C359.93,182.33 361.15,180.67 362.30,179.80 C363.45,178.93 364.57,178.95 365.70,179.20 C366.83,179.45 368.07,180.27 369.10,181.30 C370.13,182.33 371.10,183.47 371.90,185.40 C372.70,187.33 373.10,190.27 373.90,192.90 C374.70,195.53 375.68,199.10 376.70,201.20 C377.72,203.30 378.62,204.28 380.00,205.50 C381.38,206.72 382.50,207.65 385.00,208.50 C387.50,209.35 383.72,210.15 395.00,210.60 C406.28,211.05 443.08,211.10 452.70,211.20" stroke="#00B050" stroke-width="1.7" fill="none" stroke-linejoin="round" stroke-linecap="round"/><path d="M321.30,236.00 C321.33,235.33 321.27,234.30 321.50,232.00 C321.73,229.70 322.08,225.07 322.70,222.20 C323.32,219.33 324.17,216.42 325.20,214.80 C326.23,213.18 327.73,213.07 328.90,212.50 C330.07,211.93 331.47,211.45 332.20,211.40 C332.93,211.35 332.93,211.55 333.30,212.20 C333.67,212.85 333.85,214.48 334.40,215.30 C334.95,216.12 335.85,216.80 336.60,217.10 C337.35,217.40 337.97,217.47 338.90,217.10 C339.83,216.73 341.10,215.92 342.20,214.90 C343.30,213.88 344.40,212.47 345.50,211.00 C346.60,209.53 347.70,207.93 348.80,206.10 C349.90,204.27 351.17,201.95 352.10,200.00 C353.03,198.05 353.65,196.25 354.40,194.40 C355.15,192.55 355.87,190.88 356.60,188.90 C357.33,186.92 358.13,184.68 358.80,182.50 C359.47,180.32 359.90,177.80 360.60,175.80 C361.30,173.80 362.03,171.77 363.00,170.50 C363.97,169.23 365.38,168.23 366.40,168.20 C367.42,168.17 368.30,169.15 369.10,170.30 C369.90,171.45 370.50,172.93 371.20,175.10 C371.90,177.27 372.73,180.65 373.30,183.30 C373.87,185.95 374.03,188.48 374.60,191.00 C375.17,193.52 375.90,196.25 376.70,198.40 C377.50,200.55 378.38,202.42 379.40,203.90 C380.42,205.38 381.70,206.50 382.80,207.30 C383.90,208.10 383.97,208.20 386.00,208.70 C388.03,209.20 389.33,209.93 395.00,210.30 C400.67,210.67 410.83,210.78 420.00,210.90 C429.17,211.02 444.55,211.07 450.00,211.00 C455.45,210.93 452.25,210.58 452.70,210.50" stroke="#08BCF2" stroke-width="1.7" fill="none" stroke-linejoin="round" stroke-linecap="round"/></g><path d="M360.16,231.60V138.60" stroke="#1a1a1a" stroke-width="1.2" stroke-dasharray="4 3.76" fill="none"/><rect x="320.50" y="138.60" width="132.20" height="93.00" fill="none" stroke="#7d7d7d" stroke-width="1.1"/><path d="M320.50,211.67h1.3M452.70,211.67h-1.3M320.50,178.46h1.3M452.70,178.46h-1.3M320.50,145.24h1.3M452.70,145.24h-1.3M386.60,231.60v-1.3M386.60,138.60v1.3" stroke="#404040" stroke-width="0.9" fill="none"/></g>
<g><rect x="50.47" y="250.40" width="52.68" height="93.90" fill="#ebebeb"/><path d="M50.47,250.40V344.30 M63.64,250.40V344.30 M76.81,250.40V344.30 M89.98,250.40V344.30 M116.32,250.40V344.30 M129.49,250.40V344.30 M142.66,250.40V344.30 M155.83,250.40V344.30 M37.30,334.91H169.00 M37.30,325.52H169.00 M37.30,316.13H169.00 M37.30,306.74H169.00 M37.30,287.96H169.00 M37.30,278.57H169.00 M37.30,269.18H169.00 M37.30,259.79H169.00" stroke="#000" stroke-opacity="0.06" stroke-width="0.9" fill="none"/><path d="M103.15,250.40V344.30 M37.30,297.35H169.00" stroke="#dcdcdc" stroke-width="0.7" fill="none"/><g clip-path="url(#cp20)"><path d="M37.50,340.00 C37.55,338.40 37.45,333.23 37.80,330.40 C38.15,327.57 38.53,325.00 39.60,323.00 C40.67,321.00 42.35,320.08 44.20,318.40 C46.05,316.72 49.08,314.37 50.70,312.90 C52.32,311.43 52.40,311.00 53.90,309.60 C55.40,308.20 57.77,305.95 59.70,304.50 C61.63,303.05 63.80,301.67 65.50,300.90 C67.20,300.13 68.45,299.90 69.90,299.90 C71.35,299.90 72.75,300.25 74.20,300.90 C75.65,301.55 77.15,302.35 78.60,303.80 C80.05,305.25 81.45,307.55 82.90,309.60 C84.35,311.65 85.72,314.10 87.30,316.10 C88.88,318.10 90.63,319.87 92.40,321.60 C94.17,323.33 95.67,325.22 97.90,326.50 C100.13,327.78 103.15,328.52 105.80,329.30 C108.45,330.08 111.15,330.67 113.80,331.20 C116.45,331.73 117.75,331.97 121.70,332.50 C125.65,333.03 132.22,333.93 137.50,334.40 C142.78,334.87 148.15,335.03 153.40,335.30 C158.65,335.57 166.40,335.88 169.00,336.00" stroke="#FFA500" stroke-width="1.7" fill="none" stroke-linejoin="round" stroke-linecap="round"/><path d="M37.50,328.50 C37.63,327.67 37.75,324.97 38.30,323.50 C38.85,322.03 39.65,320.93 40.80,319.70 C41.95,318.47 43.50,317.55 45.20,316.10 C46.90,314.65 49.07,312.82 51.00,311.00 C52.93,309.18 54.87,307.00 56.80,305.20 C58.73,303.40 60.88,301.53 62.60,300.20 C64.32,298.87 65.77,297.90 67.10,297.20 C68.43,296.50 69.42,296.10 70.60,296.00 C71.78,295.90 73.10,296.12 74.20,296.60 C75.30,297.08 76.23,297.95 77.20,298.90 C78.17,299.85 78.80,300.63 80.00,302.30 C81.20,303.97 82.93,306.83 84.40,308.90 C85.87,310.97 87.33,312.77 88.80,314.70 C90.27,316.63 91.68,318.80 93.20,320.50 C94.72,322.20 95.80,323.70 97.90,324.90 C100.00,326.10 103.15,326.88 105.80,327.70 C108.45,328.52 111.15,329.22 113.80,329.80 C116.45,330.38 117.75,330.67 121.70,331.20 C125.65,331.73 132.22,332.52 137.50,333.00 C142.78,333.48 148.15,333.80 153.40,334.10 C158.65,334.40 166.40,334.68 169.00,334.80" stroke="#0A0AF8" stroke-width="1.7" fill="none" stroke-linejoin="round" stroke-linecap="round"/><path d="M37.50,323.50 C37.68,322.65 37.80,319.72 38.60,318.40 C39.40,317.08 40.75,316.83 42.30,315.60 C43.85,314.37 45.95,312.83 47.90,311.00 C49.85,309.17 52.28,306.43 54.00,304.60 C55.72,302.77 56.82,301.63 58.20,300.00 C59.58,298.37 60.82,296.40 62.30,294.80 C63.78,293.20 65.72,291.40 67.10,290.40 C68.48,289.40 69.42,288.97 70.60,288.80 C71.78,288.63 73.10,288.90 74.20,289.40 C75.30,289.90 76.30,290.80 77.20,291.80 C78.10,292.80 78.82,294.03 79.60,295.40 C80.38,296.77 80.87,298.23 81.90,300.00 C82.93,301.77 84.42,303.80 85.80,306.00 C87.18,308.20 88.97,311.12 90.20,313.20 C91.43,315.28 91.92,316.87 93.20,318.50 C94.48,320.13 95.80,321.72 97.90,323.00 C100.00,324.28 103.15,325.33 105.80,326.20 C108.45,327.07 111.15,327.63 113.80,328.20 C116.45,328.77 117.75,329.07 121.70,329.60 C125.65,330.13 132.22,330.97 137.50,331.40 C142.78,331.83 148.15,332.00 153.40,332.20 C158.65,332.40 166.40,332.53 169.00,332.60" stroke="#FF0A0A" stroke-width="1.7" fill="none" stroke-linejoin="round" stroke-linecap="round"/><path d="M37.50,316.80 C37.62,315.17 37.85,309.22 38.20,307.00 C38.55,304.78 38.62,304.72 39.60,303.50 C40.58,302.28 42.07,301.18 44.10,299.70 C46.13,298.22 49.25,296.50 51.80,294.60 C54.35,292.70 56.87,290.62 59.40,288.30 C61.93,285.98 64.68,283.03 67.00,280.70 C69.32,278.37 71.83,275.48 73.30,274.30 C74.77,273.12 74.95,273.38 75.80,273.60 C76.65,273.82 77.33,274.22 78.40,275.60 C79.47,276.98 81.12,279.75 82.20,281.90 C83.28,284.05 84.05,286.23 84.90,288.50 C85.75,290.77 86.42,293.00 87.30,295.50 C88.18,298.00 89.22,300.92 90.20,303.50 C91.18,306.08 91.92,308.78 93.20,311.00 C94.48,313.22 95.80,315.20 97.90,316.80 C100.00,318.40 103.15,319.57 105.80,320.60 C108.45,321.63 111.15,322.33 113.80,323.00 C116.45,323.67 117.75,324.02 121.70,324.60 C125.65,325.18 132.22,326.03 137.50,326.50 C142.78,326.97 148.52,327.13 153.40,327.40 C158.28,327.67 164.20,327.52 166.80,328.10 C169.40,328.68 168.63,330.43 169.00,330.90" stroke="#00B050" stroke-width="1.7" fill="none" stroke-linejoin="round" stroke-linecap="round"/><path d="M37.50,312.50 C37.53,310.42 37.57,303.42 37.70,300.00 C37.83,296.58 37.98,294.17 38.30,292.00 C38.62,289.83 38.98,288.50 39.60,287.00 C40.22,285.50 41.25,284.02 42.00,283.00 C42.75,281.98 42.68,281.92 44.10,280.90 C45.52,279.88 47.95,278.63 50.50,276.90 C53.05,275.17 56.65,272.62 59.40,270.50 C62.15,268.38 64.73,266.20 67.00,264.20 C69.27,262.20 71.53,259.77 73.00,258.50 C74.47,257.23 74.90,256.77 75.80,256.60 C76.70,256.43 77.55,256.52 78.40,257.50 C79.25,258.48 80.02,260.35 80.90,262.50 C81.78,264.65 82.83,267.30 83.70,270.40 C84.57,273.50 85.30,277.73 86.10,281.10 C86.90,284.47 87.68,287.53 88.50,290.60 C89.32,293.67 90.25,297.10 91.00,299.50 C91.75,301.90 92.17,303.38 93.00,305.00 C93.83,306.62 94.92,308.05 96.00,309.20 C97.08,310.35 97.87,310.97 99.50,311.90 C101.13,312.83 103.42,313.87 105.80,314.80 C108.18,315.73 111.15,316.80 113.80,317.50 C116.45,318.20 117.75,318.48 121.70,319.00 C125.65,319.52 132.22,320.20 137.50,320.60 C142.78,321.00 148.52,321.22 153.40,321.40 C158.28,321.58 164.33,321.43 166.80,321.70 C169.27,321.97 167.83,322.12 168.20,323.00 C168.57,323.88 168.87,326.33 169.00,327.00" stroke="#08BCF2" stroke-width="1.7" fill="none" stroke-linejoin="round" stroke-linecap="round"/></g><path d="M76.81,344.30V250.40" stroke="#1a1a1a" stroke-width="1.2" stroke-dasharray="4 3.76" fill="none"/><rect x="37.30" y="250.40" width="131.70" height="93.90" fill="none" stroke="#7d7d7d" stroke-width="1.1"/><path d="M37.30,297.35h1.3M169.00,297.35h-1.3M103.15,344.30v-1.3M103.15,250.40v1.3" stroke="#404040" stroke-width="0.9" fill="none"/></g>
<g><rect x="190.99" y="249.70" width="53.16" height="94.60" fill="#ebebeb"/><path d="M190.99,249.70V344.30 M204.28,249.70V344.30 M217.57,249.70V344.30 M230.86,249.70V344.30 M257.44,249.70V344.30 M270.73,249.70V344.30 M284.02,249.70V344.30 M297.31,249.70V344.30 M177.70,334.84H310.60 M177.70,325.38H310.60 M177.70,315.92H310.60 M177.70,306.46H310.60 M177.70,287.54H310.60 M177.70,278.08H310.60 M177.70,268.62H310.60 M177.70,259.16H310.60" stroke="#000" stroke-opacity="0.06" stroke-width="0.9" fill="none"/><path d="M244.15,249.70V344.30 M177.70,297.00H310.60" stroke="#dcdcdc" stroke-width="0.7" fill="none"/><g clip-path="url(#cp21)"><path d="M177.70,340.00 C178.02,337.70 178.70,329.48 179.60,326.20 C180.50,322.92 181.33,322.27 183.10,320.30 C184.87,318.33 187.43,316.65 190.20,314.40 C192.97,312.15 196.93,308.87 199.70,306.80 C202.47,304.73 204.82,303.03 206.80,302.00 C208.78,300.97 210.02,300.60 211.60,300.60 C213.18,300.60 214.72,300.70 216.30,302.00 C217.88,303.30 219.32,305.95 221.10,308.40 C222.88,310.85 225.52,314.80 227.00,316.70 C228.48,318.60 228.25,318.20 230.00,319.80 C231.75,321.40 233.77,324.47 237.50,326.30 C241.23,328.13 246.20,329.50 252.40,330.80 C258.60,332.10 265.00,333.22 274.70,334.10 C284.40,334.98 304.62,335.77 310.60,336.10" stroke="#FFA500" stroke-width="1.7" fill="none" stroke-linejoin="round" stroke-linecap="round"/><path d="M177.70,332.00 C178.02,330.45 178.30,325.25 179.60,322.70 C180.90,320.15 182.93,318.88 185.50,316.70 C188.07,314.52 191.83,312.05 195.00,309.60 C198.17,307.15 201.73,303.98 204.50,302.00 C207.27,300.02 209.83,298.33 211.60,297.70 C213.37,297.07 213.72,297.20 215.10,298.20 C216.48,299.20 218.12,301.20 219.90,303.70 C221.68,306.20 224.12,310.73 225.80,313.20 C227.48,315.67 228.05,316.43 230.00,318.50 C231.95,320.57 233.77,323.67 237.50,325.60 C241.23,327.53 246.20,328.85 252.40,330.10 C258.60,331.35 265.00,332.27 274.70,333.10 C284.40,333.93 304.62,334.77 310.60,335.10" stroke="#0A0AF8" stroke-width="1.7" fill="none" stroke-linejoin="round" stroke-linecap="round"/><path d="M177.70,324.50 C178.20,323.40 179.00,319.78 180.70,317.90 C182.40,316.02 185.13,315.17 187.90,313.20 C190.67,311.23 194.15,308.68 197.30,306.10 C200.45,303.52 204.42,299.80 206.80,297.70 C209.18,295.60 210.42,294.28 211.60,293.50 C212.78,292.72 212.92,292.68 213.90,293.00 C214.88,293.32 216.12,293.62 217.50,295.40 C218.88,297.18 220.70,300.93 222.20,303.70 C223.70,306.47 225.20,309.87 226.50,312.00 C227.80,314.13 228.67,314.85 230.00,316.50 C231.33,318.15 232.52,320.38 234.50,321.90 C236.48,323.42 238.92,324.48 241.90,325.60 C244.88,326.72 248.17,327.73 252.40,328.60 C256.63,329.47 261.10,330.13 267.30,330.80 C273.50,331.47 282.38,332.13 289.60,332.60 C296.82,333.07 307.10,333.43 310.60,333.60" stroke="#FF0A0A" stroke-width="1.7" fill="none" stroke-linejoin="round" stroke-linecap="round"/><path d="M177.70,313.00 C177.83,312.50 178.00,311.15 178.50,310.00 C179.00,308.85 179.13,307.55 180.70,306.10 C182.27,304.65 185.13,303.28 187.90,301.30 C190.67,299.32 194.15,296.77 197.30,294.20 C200.45,291.63 204.22,288.17 206.80,285.90 C209.38,283.63 211.42,281.60 212.80,280.60 C214.18,279.60 214.20,279.62 215.10,279.90 C216.00,280.18 217.02,280.52 218.20,282.30 C219.38,284.08 220.73,286.83 222.20,290.60 C223.67,294.37 225.70,301.75 227.00,304.90 C228.30,308.05 229.00,307.82 230.00,309.50 C231.00,311.18 231.52,313.18 233.00,315.00 C234.48,316.82 236.92,319.13 238.90,320.40 C240.88,321.67 241.42,321.62 244.90,322.60 C248.38,323.58 254.83,325.30 259.80,326.30 C264.77,327.30 269.73,328.05 274.70,328.60 C279.67,329.15 283.62,329.28 289.60,329.60 C295.58,329.92 307.10,330.35 310.60,330.50" stroke="#00B050" stroke-width="1.7" fill="none" stroke-linejoin="round" stroke-linecap="round"/><path d="M177.70,306.00 C177.88,304.23 178.25,297.73 178.80,295.40 C179.35,293.07 180.28,292.80 181.00,292.00 C181.72,291.20 181.57,291.62 183.10,290.60 C184.63,289.58 187.43,287.68 190.20,285.90 C192.97,284.12 196.53,282.08 199.70,279.90 C202.87,277.72 206.63,274.65 209.20,272.80 C211.77,270.95 213.72,269.58 215.10,268.80 C216.48,268.02 216.70,267.95 217.50,268.10 C218.30,268.25 218.92,268.12 219.90,269.70 C220.88,271.28 222.22,273.72 223.40,277.60 C224.58,281.48 225.82,288.65 227.00,293.00 C228.18,297.35 229.58,301.13 230.50,303.70 C231.42,306.27 231.33,306.73 232.50,308.40 C233.67,310.07 235.43,312.20 237.50,313.70 C239.57,315.20 241.18,316.17 244.90,317.40 C248.62,318.63 254.83,320.10 259.80,321.10 C264.77,322.10 269.73,322.82 274.70,323.40 C279.67,323.98 283.62,324.30 289.60,324.60 C295.58,324.90 307.10,325.10 310.60,325.20" stroke="#08BCF2" stroke-width="1.7" fill="none" stroke-linejoin="round" stroke-linecap="round"/></g><path d="M217.57,344.30V249.70" stroke="#1a1a1a" stroke-width="1.2" stroke-dasharray="4 3.76" fill="none"/><rect x="177.70" y="249.70" width="132.90" height="94.60" fill="none" stroke="#7d7d7d" stroke-width="1.1"/><path d="M177.70,297.00h1.3M310.60,297.00h-1.3M244.15,344.30v-1.3M244.15,249.70v1.3" stroke="#404040" stroke-width="0.9" fill="none"/></g>
<g><rect x="333.25" y="249.70" width="53.40" height="94.60" fill="#ebebeb"/><path d="M333.25,249.70V344.30 M346.60,249.70V344.30 M359.95,249.70V344.30 M373.30,249.70V344.30 M400.00,249.70V344.30 M413.35,249.70V344.30 M426.70,249.70V344.30 M440.05,249.70V344.30 M319.90,334.84H453.40 M319.90,325.38H453.40 M319.90,315.92H453.40 M319.90,306.46H453.40 M319.90,287.54H453.40 M319.90,278.08H453.40 M319.90,268.62H453.40 M319.90,259.16H453.40" stroke="#000" stroke-opacity="0.06" stroke-width="0.9" fill="none"/><path d="M386.65,249.70V344.30 M319.90,297.00H453.40" stroke="#dcdcdc" stroke-width="0.7" fill="none"/><g clip-path="url(#cp22)"><path d="M319.90,341.50 C320.08,339.80 320.17,334.32 321.00,331.30 C321.83,328.28 323.08,325.70 324.90,323.40 C326.72,321.10 329.08,319.47 331.90,317.50 C334.72,315.53 338.83,313.25 341.80,311.60 C344.77,309.95 347.57,308.43 349.70,307.60 C351.83,306.77 352.95,306.60 354.60,306.60 C356.25,306.60 357.95,306.77 359.60,307.60 C361.25,308.43 362.85,309.95 364.50,311.60 C366.15,313.25 367.85,315.70 369.50,317.50 C371.15,319.30 372.98,321.17 374.40,322.40 C375.82,323.63 375.92,323.62 378.00,324.90 C380.08,326.18 382.93,328.73 386.90,330.10 C390.87,331.47 395.58,332.28 401.80,333.10 C408.02,333.92 415.60,334.42 424.20,335.00 C432.80,335.58 448.53,336.33 453.40,336.60" stroke="#FFA500" stroke-width="1.7" fill="none" stroke-linejoin="round" stroke-linecap="round"/><path d="M319.90,335.00 C320.25,333.40 320.67,327.98 322.00,325.40 C323.33,322.82 325.27,321.80 327.90,319.50 C330.53,317.20 334.50,314.08 337.80,311.60 C341.10,309.12 344.90,306.52 347.70,304.60 C350.50,302.68 352.95,300.92 354.60,300.10 C356.25,299.28 356.43,299.27 357.60,299.70 C358.77,300.13 360.12,300.72 361.60,302.70 C363.08,304.68 364.85,308.80 366.50,311.60 C368.15,314.40 369.58,317.17 371.50,319.50 C373.42,321.83 375.43,323.72 378.00,325.60 C380.57,327.48 382.93,329.55 386.90,330.80 C390.87,332.05 395.58,332.47 401.80,333.10 C408.02,333.73 415.60,334.23 424.20,334.60 C432.80,334.97 448.53,335.18 453.40,335.30" stroke="#0A0AF8" stroke-width="1.7" fill="none" stroke-linejoin="round" stroke-linecap="round"/><path d="M319.90,329.00 C320.25,327.75 320.67,323.58 322.00,321.50 C323.33,319.42 325.27,318.65 327.90,316.50 C330.53,314.35 334.50,311.07 337.80,308.60 C341.10,306.13 344.90,303.68 347.70,301.70 C350.50,299.72 352.95,297.53 354.60,296.70 C356.25,295.87 356.43,296.20 357.60,296.70 C358.77,297.20 360.12,297.72 361.60,299.70 C363.08,301.68 364.85,305.63 366.50,308.60 C368.15,311.57 369.83,315.17 371.50,317.50 C373.17,319.83 374.43,321.13 376.50,322.60 C378.57,324.07 380.92,325.18 383.90,326.30 C386.88,327.42 390.17,328.42 394.40,329.30 C398.63,330.18 403.10,330.85 409.30,331.60 C415.50,332.35 424.25,333.23 431.60,333.80 C438.95,334.37 449.77,334.80 453.40,335.00" stroke="#FF0A0A" stroke-width="1.7" fill="none" stroke-linejoin="round" stroke-linecap="round"/><path d="M319.90,323.00 C320.08,322.08 319.67,319.40 321.00,317.50 C322.33,315.60 325.10,313.92 327.90,311.60 C330.70,309.28 334.50,306.25 337.80,303.60 C341.10,300.95 344.73,297.83 347.70,295.70 C350.67,293.57 353.78,291.72 355.60,290.80 C357.42,289.88 357.60,289.87 358.60,290.20 C359.60,290.53 360.28,290.72 361.60,292.80 C362.92,294.88 364.85,299.25 366.50,302.70 C368.15,306.15 370.22,311.18 371.50,313.50 C372.78,315.82 372.87,315.33 374.20,316.60 C375.53,317.87 377.38,319.97 379.50,321.10 C381.62,322.23 383.18,322.40 386.90,323.40 C390.62,324.40 396.83,326.12 401.80,327.10 C406.77,328.08 411.73,328.68 416.70,329.30 C421.67,329.92 425.48,330.42 431.60,330.80 C437.72,331.18 449.77,331.47 453.40,331.60" stroke="#00B050" stroke-width="1.7" fill="none" stroke-linejoin="round" stroke-linecap="round"/><path d="M319.90,316.00 C319.92,315.27 319.65,312.68 320.00,311.60 C320.35,310.52 321.02,310.33 322.00,309.50 C322.98,308.67 323.93,308.07 325.90,306.60 C327.87,305.13 331.15,302.68 333.80,300.70 C336.45,298.72 339.15,296.85 341.80,294.70 C344.45,292.55 347.23,290.00 349.70,287.80 C352.17,285.60 354.95,282.65 356.60,281.50 C358.25,280.35 358.60,280.67 359.60,280.90 C360.60,281.13 361.45,281.08 362.60,282.90 C363.75,284.72 365.18,288.50 366.50,291.80 C367.82,295.10 369.50,300.08 370.50,302.70 C371.50,305.32 371.85,306.02 372.50,307.50 C373.15,308.98 373.23,309.83 374.40,311.60 C375.57,313.37 377.42,316.52 379.50,318.10 C381.58,319.68 383.18,319.97 386.90,321.10 C390.62,322.23 396.83,323.90 401.80,324.90 C406.77,325.90 411.73,326.48 416.70,327.10 C421.67,327.72 426.00,328.23 431.60,328.60 C437.20,328.97 446.82,328.93 450.30,329.30 C453.78,329.67 451.98,330.43 452.50,330.80 C453.02,331.17 453.25,331.38 453.40,331.50" stroke="#08BCF2" stroke-width="1.7" fill="none" stroke-linejoin="round" stroke-linecap="round"/></g><path d="M359.95,344.30V249.70" stroke="#1a1a1a" stroke-width="1.2" stroke-dasharray="4 3.76" fill="none"/><rect x="319.90" y="249.70" width="133.50" height="94.60" fill="none" stroke="#7d7d7d" stroke-width="1.1"/><path d="M319.90,297.00h1.3M453.40,297.00h-1.3M386.65,344.30v-1.3M386.65,249.70v1.3" stroke="#404040" stroke-width="0.9" fill="none"/></g>
<rect x="459.5" y="31.9" width="87.29999999999995" height="82.1" fill="#fff" stroke="#808080" stroke-width="1"/>
<g stroke="#262626" stroke-width="0.25">
<path d="M464.6,41.60H486.2" stroke="#FFA500" stroke-width="1.7"/>
<text transform="translate(487.8,46.90) scale(0.93,1)" font-size="9.8" fill="#262626">J = 50 Am<tspan dy="-3.7" font-size="7.4">-2</tspan></text>
<path d="M464.6,57.20H486.2" stroke="#0A0AF8" stroke-width="1.7"/>
<text transform="translate(487.8,62.50) scale(0.93,1)" font-size="9.8" fill="#262626">J = 100 Am<tspan dy="-3.7" font-size="7.4">-2</tspan></text>
<path d="M464.6,72.80H486.2" stroke="#FF0A0A" stroke-width="1.7"/>
<text transform="translate(487.8,78.10) scale(0.93,1)" font-size="9.8" fill="#262626">J = 200 Am<tspan dy="-3.7" font-size="7.4">-2</tspan></text>
<path d="M464.6,88.40H486.2" stroke="#00B050" stroke-width="1.7"/>
<text transform="translate(487.8,93.70) scale(0.93,1)" font-size="9.8" fill="#262626">J = 400 Am<tspan dy="-3.7" font-size="7.4">-2</tspan></text>
<path d="M464.6,104.00H486.2" stroke="#08BCF2" stroke-width="1.7"/>
<text transform="translate(487.8,109.30) scale(0.93,1)" font-size="9.8" fill="#262626">J = 800 Am<tspan dy="-3.7" font-size="7.4">-2</tspan></text>
</g>
<text x="106.8" y="16.2" font-size="14.4" text-anchor="middle" font-weight="bold" fill="#000" textLength="17.1" lengthAdjust="spacingAndGlyphs">Xe</text>
<text x="246.5" y="16.1" font-size="14.4" text-anchor="middle" font-weight="bold" fill="#000" textLength="14.2" lengthAdjust="spacingAndGlyphs">Kr</text>
<text x="385.2" y="15.7" font-size="14.4" text-anchor="middle" font-weight="bold" fill="#000" textLength="15.6" lengthAdjust="spacingAndGlyphs">Ar</text>
<g stroke="#404040" stroke-width="0.3">
<text x="34.1" y="123.9" font-size="10" text-anchor="end" font-weight="normal" fill="#404040" >0</text>
<text x="34.1" y="105.22" font-size="10" text-anchor="end" font-weight="normal" fill="#404040" >1</text>
<text x="34.1" y="86.54" font-size="10" text-anchor="end" font-weight="normal" fill="#404040" >2</text>
<text x="34.1" y="67.86" font-size="10" text-anchor="end" font-weight="normal" fill="#404040" >3</text>
<text x="34.1" y="49.18" font-size="10" text-anchor="end" font-weight="normal" fill="#404040" >4</text>
<text x="34.1" y="30.5" font-size="10" text-anchor="end" font-weight="normal" fill="#404040" >5</text>
<text x="34.1" y="215.27" font-size="10" text-anchor="end" font-weight="normal" fill="#404040" >0</text>
<text x="34.1" y="182.06" font-size="10" text-anchor="end" font-weight="normal" fill="#404040" >0.5</text>
<text x="34.1" y="148.84" font-size="10" text-anchor="end" font-weight="normal" fill="#404040" >1</text>
<text x="33.8" y="347.9" font-size="10" text-anchor="end" font-weight="normal" fill="#404040" >0</text>
<text x="33.8" y="300.95" font-size="10" text-anchor="end" font-weight="normal" fill="#404040" >50</text>
<text x="33.8" y="254.0" font-size="10" text-anchor="end" font-weight="normal" fill="#404040" >100</text>
<text x="37.3" y="357.8" font-size="10" text-anchor="middle" font-weight="normal" fill="#404040" >0</text>
<text x="103.15" y="357.8" font-size="10" text-anchor="middle" font-weight="normal" fill="#404040" >0.5</text>
<text x="169.0" y="357.8" font-size="10" text-anchor="middle" font-weight="normal" fill="#404040" >1</text>
<text x="103.15" y="372.4" font-size="10.4" text-anchor="middle" font-weight="normal" fill="#404040" >x/Lx</text>
<text x="177.7" y="357.8" font-size="10" text-anchor="middle" font-weight="normal" fill="#404040" >0</text>
<text x="244.15" y="357.8" font-size="10" text-anchor="middle" font-weight="normal" fill="#404040" >0.5</text>
<text x="310.6" y="357.8" font-size="10" text-anchor="middle" font-weight="normal" fill="#404040" >1</text>
<text x="244.15" y="372.4" font-size="10.4" text-anchor="middle" font-weight="normal" fill="#404040" >x/Lx</text>
<text x="319.9" y="357.8" font-size="10" text-anchor="middle" font-weight="normal" fill="#404040" >0</text>
<text x="386.65" y="357.8" font-size="10" text-anchor="middle" font-weight="normal" fill="#404040" >0.5</text>
<text x="453.4" y="357.8" font-size="10" text-anchor="middle" font-weight="normal" fill="#404040" >1</text>
<text x="386.65" y="372.4" font-size="10.4" text-anchor="middle" font-weight="normal" fill="#404040" >x/Lx</text>
<text transform="translate(25.5,74.2) rotate(-90)" font-size="10.8" text-anchor="middle" fill="#404040">ni [m<tspan dy="-4" font-size="8.2">-3</tspan><tspan dy="4">]</tspan></text>
<text transform="translate(18.3,185.1) rotate(-90)" font-size="10.8" text-anchor="middle" fill="#404040">Ex [V/m]</text>
<text transform="translate(12.6,297.0) rotate(-90)" font-size="10.8" text-anchor="middle" fill="#404040">Te [eV]</text>
<text x="37.8" y="25.1" font-size="11" fill="#404040">×</text>
<text x="45.3" y="24.0" font-size="10.4" fill="#404040" textLength="8.9" lengthAdjust="spacingAndGlyphs">10</text>
<text x="56.2" y="19.4" font-size="7.6" fill="#404040" textLength="6.6" lengthAdjust="spacingAndGlyphs">17</text>
<text x="37.8" y="136.7" font-size="11" fill="#404040">×</text>
<text x="45.3" y="135.5" font-size="10.4" fill="#404040" textLength="8.9" lengthAdjust="spacingAndGlyphs">10</text>
<text x="56.6" y="131.2" font-size="8.4" fill="#404040">5</text>
</g>
</svg></body></html>
